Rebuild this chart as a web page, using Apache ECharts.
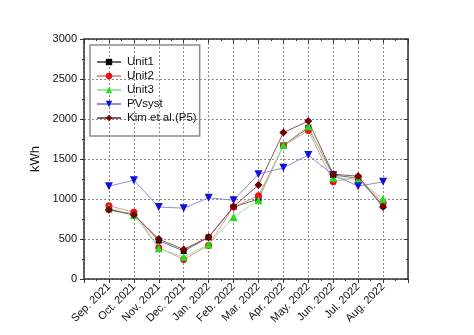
<!DOCTYPE html>
<html>
<head>
<meta charset="utf-8">
<script src="https://cdn.jsdelivr.net/npm/echarts@6/dist/echarts.min.js"></script>
<style>html,body{margin:0;padding:0;background:#fff;}#c{width:474px;height:335px;}</style>
</head>
<body>
<div id="c"></div>
<script>
var categories = ['Sep. 2021','Oct. 2021','Nov. 2021','Dec. 2021','Jan. 2022','Feb. 2022','Mar. 2022','Apr. 2022','May. 2022','Jun. 2022','Jul. 2022','Aug. 2022'];
var unit1 = [870, 810, 480, 350, 520, 900, 1000, 1670, 1890, 1300, 1260, 920];
var unit2 = [915, 835, 390, 245, 420, 900, 1040, 1665, 1855, 1215, 1275, 950];
var unit3 = [890, 800, 385, 275, 430, 775, 985, 1675, 1910, 1265, 1245, 1000];
var pvsyst = [1160, 1235, 900, 885, 1015, 985, 1310, 1390, 1550, 1300, 1160, 1215];
var kim = [865, 800, 500, 370, 525, 905, 1175, 1830, 1975, 1310, 1285, 900];
var yTicks = [0, 500, 1000, 1500, 2000, 2500, 3000];

function pairs(arr){ return arr.map(function(v,i){ return [i, v]; }); }
var font = 'Liberation Sans, Arial, sans-serif';
var dotted = {show:true, lineStyle:{color:'#8a8a8a', type:[2,2], width:1}};

function mk(name, data, lineColor, sym, symColor, size, rot){
  return {
    name: name, type:'line', data: pairs(data), xAxisIndex:0, yAxisIndex:0,
    symbol: sym, symbolSize: size, symbolRotate: rot || 0,
    lineStyle:{color: lineColor, width:1},
    itemStyle:{color: symColor, borderColor: symColor, borderWidth:0},
    emphasis:{disabled:true}, animation:false
  };
}

var chart = echarts.init(document.getElementById('c'), null, {renderer:'canvas'});
chart.setOption({
  animation:false,
  grid:{left:84, right:66, top:39, bottom:56},
  legend:{
    left:90, top:45, orient:'vertical', itemGap:0, itemWidth:24, itemHeight:8,
    padding:[10, 3, 11, 6], borderColor:'#8c8c8c', borderWidth:1.5,
    textStyle:{fontFamily:font, fontSize:11.5, color:'#111', lineHeight:14, padding:[0,0,0,1]},
    data:['Unit1','Unit2','Unit3','PVsyst','Kim et al.(P5)']
  },
  xAxis:[{
    type:'value', min:-1, max:12, interval:1, position:'bottom',
    axisLine:{show:true, onZero:false, lineStyle:{color:'#333', width:1.5}},
    axisTick:{show:true, inside:false, length:4, lineStyle:{color:'#333', width:1}},
    minorTick:{show:true, splitNumber:2, length:2, lineStyle:{color:'#333'}},
    splitLine:dotted,
    axisLabel:{rotate:45, fontFamily:font, fontSize:11, color:'#111', margin:6,
      formatter:function(v){ return (v>=0 && v<categories.length) ? categories[v] : ''; }}
  },{
    type:'value', min:-1, max:12, interval:1, position:'top',
    axisLine:{show:true, onZero:false, lineStyle:{color:'#333', width:1.5}},
    axisTick:{show:true, inside:true, length:4, lineStyle:{color:'#333'}},
    minorTick:{show:true, splitNumber:2, length:2, lineStyle:{color:'#333'}},
    splitLine:{show:false}, axisLabel:{show:false}
  }],
  yAxis:[{
    type:'value', min:yTicks[0], max:yTicks[yTicks.length-1], interval:500, position:'left',
    name:'kWh', nameLocation:'middle', nameGap:38, nameRotate:90,
    nameTextStyle:{fontFamily:font, fontSize:13, color:'#111'},
    axisLine:{show:true, onZero:false, lineStyle:{color:'#333', width:1.5}},
    axisTick:{show:true, inside:false, length:4, lineStyle:{color:'#333'}},
    minorTick:{show:true, splitNumber:2, length:2, lineStyle:{color:'#333'}},
    splitLine:dotted,
    axisLabel:{fontFamily:font, fontSize:11, color:'#111', margin:7,
      formatter:function(v){ return String(v); }}
  },{
    type:'value', min:yTicks[0], max:yTicks[yTicks.length-1], interval:500, position:'right',
    axisLine:{show:true, onZero:false, lineStyle:{color:'#333', width:1.5}},
    axisTick:{show:true, inside:true, length:4, lineStyle:{color:'#333'}},
    minorTick:{show:true, splitNumber:2, length:2, lineStyle:{color:'#333'}},
    splitLine:{show:false}, axisLabel:{show:false}
  }],
  series:[
    mk('Unit1', unit1, '#6a6a6a', 'rect', '#000000', 6),
    mk('Unit2', unit2, '#e29a9a', 'circle', '#ee1111', 7),
    mk('Unit3', unit3, '#9ee59e', 'triangle', '#22dd22', 8),
    mk('PVsyst', pvsyst, '#8f8fd6', 'triangle', '#1010dd', 8, 180),
    mk('Kim et al.(P5)', kim, '#8c5a5a', 'diamond', '#6e0000', 8)
  ]
});
</script>
</body>
</html>
